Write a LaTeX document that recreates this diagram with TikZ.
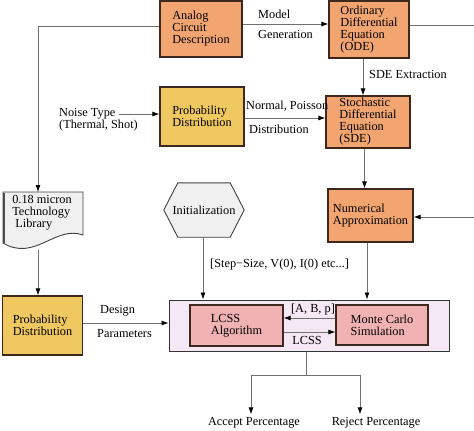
\documentclass[tikz,border=0pt]{standalone}
\usepackage{fontspec}
\setmainfont{Liberation Serif}
\usetikzlibrary{arrows.meta,backgrounds}
\definecolor{orangebox}{RGB}{242,165,112}
\definecolor{yellowbox}{RGB}{240,200,98}
\definecolor{pinkbox}{RGB}{240,178,178}
\definecolor{lilacbox}{RGB}{243,232,243}
\definecolor{docfill}{RGB}{240,240,240}
\definecolor{boxborder}{RGB}{60,40,30}
\definecolor{linegray}{RGB}{112,112,112}
\begin{document}
\begin{tikzpicture}[x=1pt,y=-1pt,
  font=\fontsize{12.3}{12}\selectfont,
  box/.style={draw=boxborder, line width=1.2pt, inner sep=0pt, align=left},
  orangebox/.style={box, fill=orangebox},
  yellowbox/.style={box, fill=yellowbox},
  pinkbox/.style={box, fill=pinkbox},
  lilac/.style={draw=black!80, line width=1pt, fill=lilacbox},
  conn/.style={draw=linegray, line width=0.8pt},
  arr/.style={conn, -{Latex[length=7pt,width=5pt,color=black]}},
  lbl/.style={inner sep=0pt, anchor=west},
  shapeline/.style={draw=black!75, line width=0.9pt, fill=docfill}]
\useasboundingbox (0,0) rectangle (474,431);

% boxes
\node[orangebox, minimum width=82pt, minimum height=56pt] (acd) at (201,29) {Analog\\Circuit\\Description};
\node[orangebox, minimum width=80pt, minimum height=57pt] (ode) at (369,29.5) {Ordinary\\Differential\\Equation\\(ODE)};
\node[yellowbox, minimum width=84pt, minimum height=59pt] (pd1) at (202,116.5) {Probability\\Distribution};
\node[orangebox, minimum width=84pt, minimum height=52pt] (sde) at (368,122) {Stochastic\\Differential\\Equation\\(SDE)};
\node[orangebox, minimum width=85pt, minimum height=53pt] (na) at (370.5,215.5) {Numerical\\Approximation};

% hexagon
\node[inner sep=0pt, minimum width=80pt, minimum height=54pt] (init) at (204,210) {Initialization};
\begin{scope}[on background layer]
\path[shapeline] (init.west) -- ([xshift=14pt]init.north west) -- ([xshift=-14pt]init.north east) -- (init.east) -- ([xshift=-14pt]init.south east) -- ([xshift=14pt]init.south west) -- cycle;
\end{scope}

% document shape
\node[inner sep=0pt, align=left] (lib) at (42,213) {0.18 micron\\Technology\\\ Library};
\begin{scope}[on background layer]
\path[shapeline] (3,192) -- (83,192) -- (83,235) .. controls (55,225) and (35,262) .. (3,243) -- cycle;
\draw[black!70, line width=2pt] (4,193) -- (4,243);
\end{scope}
\coordinate (libtop) at (38,192);
\coordinate (libbot) at (38,250);

\node[yellowbox, minimum width=80pt, minimum height=59pt] (pd2) at (42.5,325.5) {Probability\\Distribution};

% big box
\node[lilac, minimum width=280pt, minimum height=51pt] (big) at (309,325.5) {};
\node[pinkbox, minimum width=93pt, minimum height=41pt] (lcss) at (236.5,325.5) {LCSS\\Algorithm};
\node[pinkbox, minimum width=92pt, minimum height=40pt] (mc) at (382,325) {Monte Carlo\\Simulation};

% labels
\node[lbl] (lmodel) at (258,14) {Model};
\node[lbl] (lgen) at (258,34) {Generation};
\node[lbl] (lsde) at (369,74) {SDE Extraction};
\node[lbl] (lnp) at (246,106) {Normal, Poisson};
\node[lbl] (ldist) at (249,129) {Distribution};
\node[inner sep=0pt, align=left] (noise) at (98.5,120) {Noise Type\\(Thermal, Shot)};
\node[lbl] (lstep) at (210,265) {[Step−Size, V(0), I(0) etc...]};
\node[lbl] (ldes) at (100,311) {Design};
\node[lbl] (lpar) at (97,334) {Parameters};
\node[inner sep=0pt] (labp) at (313,310) {[A, B, p]};
\node[inner sep=0pt] (llcss) at (307,340) {LCSS};
\node[inner sep=0pt] (acc) at (254,423) {Accept Percentage};
\node[inner sep=0pt] (rej) at (376,423) {Reject Percentage};

% free ends
\coordinate (r1) at (474,25);
\coordinate (r2) at (474,217);
\coordinate (ns) at (119,114);
\coordinate (j) at (306,375);

% connectors
\draw[arr] ([yshift=5pt]acd.east) -- ([yshift=5pt]acd.east -| ode.west);
\draw[conn] ([yshift=4.5pt]ode.east) -- (r1);
\draw[arr] ([xshift=-6pt]ode.south) -- ([xshift=-6pt]ode.south |- sde.north);
\draw[arr] ([yshift=-1.5pt]pd1.east) -- ([yshift=-1.5pt]pd1.east -| sde.west);
\draw[arr] (ns) -- (ns -| pd1.west);
\draw[arr] ([xshift=-3.5pt]sde.south) -- ([xshift=-3.5pt]sde.south |- na.north);
\draw[arr] (r2) -- (r2 -| na.east);
\draw[arr] ([xshift=-3.5pt]na.south) -- ([xshift=-3.5pt]na.south |- big.north);
\draw[arr] ([xshift=-1pt]init.south) -- ([xshift=-1pt]init.south |- big.north);
\draw[arr] ([yshift=3pt]acd.west) -| (libtop);
\draw[arr] (libbot) -- (libbot |- pd2.north);
\draw[arr] ([yshift=2.5pt]pd2.east) -- ([yshift=2.5pt]pd2.east -| big.west);
\draw[arr] ([yshift=7pt]mc.west) -- ([yshift=7pt]mc.west -| lcss.east);
\draw[arr] ([yshift=-6.5pt]lcss.east) -- ([yshift=-6.5pt]lcss.east -| mc.west);
\draw[conn] (big.south -| j) -- (j);
\draw[arr, shorten >=3pt] (j) -| ([xshift=-3pt]acc.north);
\draw[arr, shorten >=3pt] (j) -| ([xshift=-16pt]rej.north);
\end{tikzpicture}
\end{document}
